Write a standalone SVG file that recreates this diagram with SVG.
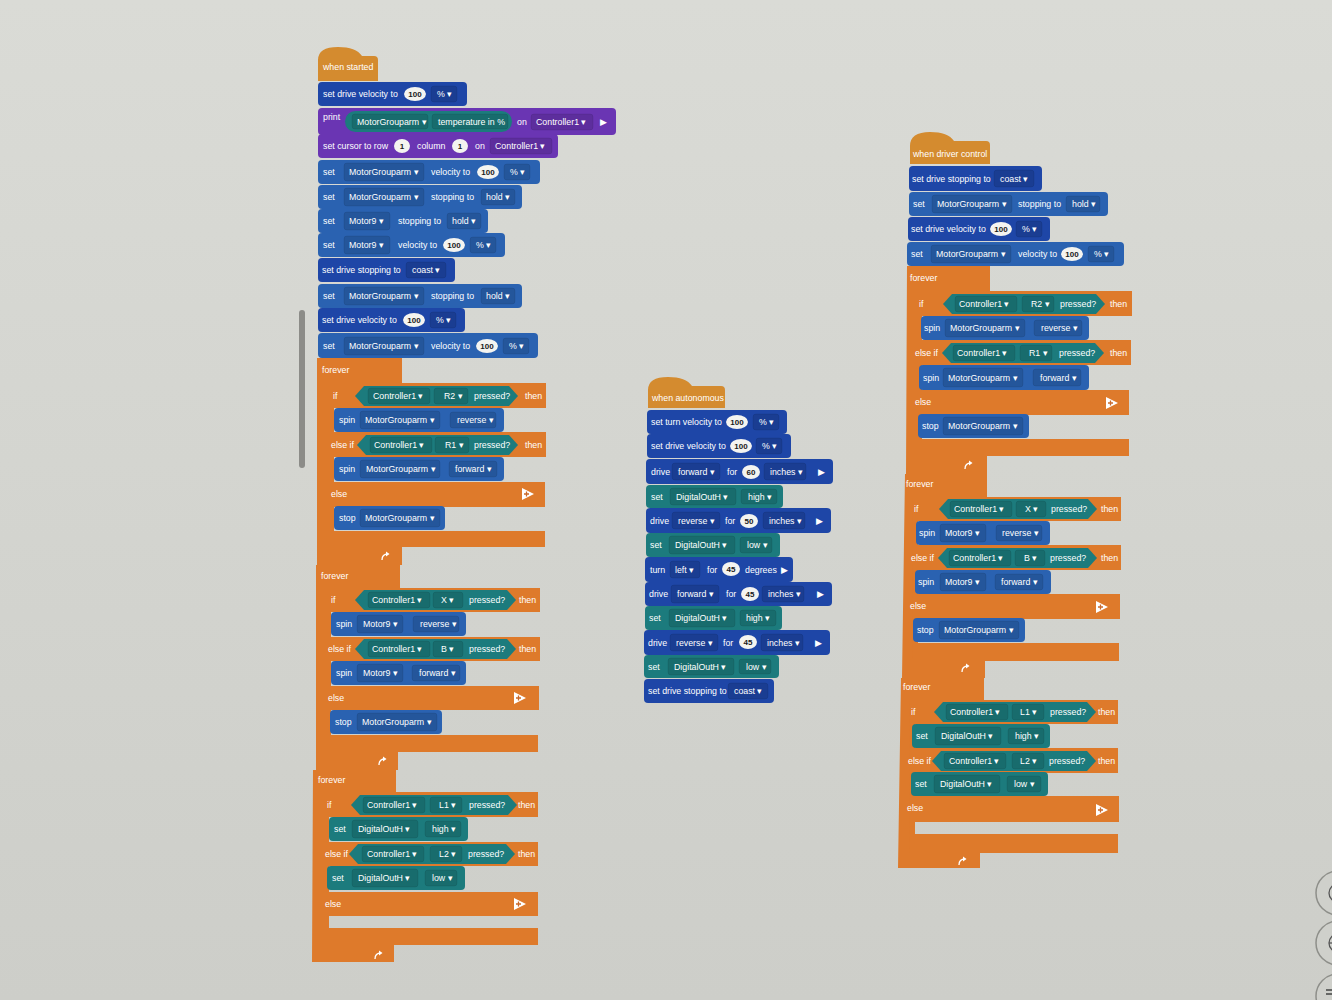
<svg xmlns="http://www.w3.org/2000/svg" width="1332" height="1000" viewBox="0 0 1332 1000">
<style>
.t{font-family:"Liberation Sans",Arial,sans-serif;font-size:8.8px;fill:#fff}
.n{font-family:"Liberation Sans",Arial,sans-serif;font-size:8px;fill:#1a1a1a;text-anchor:middle;font-weight:bold}
.ev{fill:#d48b2f}
.c{fill:#de7a2b}
.d{fill:#1e46a7}
.m{fill:#2a62b1}
.p{fill:#6a35b3}
.s{fill:#1c7b7d}
.f{fill:#000;fill-opacity:.12;stroke:#000;stroke-opacity:.14;stroke-width:.6}
.pl{fill:#f4f4f0}
.btn{fill:#cfd0cb;stroke:#8e8f8a;stroke-width:1.5}
</style>
<defs>
<linearGradient id="bg" x1="0" y1="0" x2="0" y2="1">
<stop offset="0" stop-color="#dadbd6"/><stop offset="1" stop-color="#cdcec9"/>
</linearGradient>
<g id="plus"><path d="M-6,-6 L6,0 L-6,6 Z" fill="#fff"/><path d="M-4,0 H1 M-1.5,-2.5 V2.5" stroke="#c9692a" stroke-width="1.3"/></g>
<g id="loop"><path d="M-3,4 Q-3,-2 3,-2" fill="none" stroke="#fff" stroke-width="1.3"/><path d="M1,-4.5 L4.5,-2 L1,0.5 Z" fill="#fff"/></g>
</defs>
<rect width="1332" height="1000" fill="url(#bg)"/>
<rect x="299" y="310" width="6" height="158" rx="3" fill="#8c8c88"/>
<g id="zoom-buttons">
<circle class="btn" cx="1338" cy="893" r="22"/><circle cx="1338" cy="893" r="9" fill="none" stroke="#555" stroke-width="1.3"/>
<circle class="btn" cx="1338" cy="943" r="22"/><circle cx="1338" cy="943" r="9" fill="none" stroke="#555" stroke-width="1.3"/><path d="M1329,943 H1334" stroke="#555" stroke-width="1.3"/>
<circle class="btn" cx="1338" cy="996" r="22"/><path d="M1326,990 H1332 M1326,994 H1332" stroke="#444" stroke-width="1.5"/>
</g>
<g id="connectors"/>

<g id="stack-when-started">
<g id="L-hat"><path class="ev" d="M318,81 V60 Q318,47 338,47 Q356,47 362,56 H374 Q378,56 378,60 V81 Z"/><text class="t" x="323" y="70">when started</text></g>
<g id="L1"><rect class="d" x="318" y="82" width="149" height="24" rx="4"/><text class="t" x="323" y="97">set drive velocity to</text><ellipse class="pl" cx="415" cy="94" rx="11" ry="7"/><text class="n" x="415" y="97">100</text><rect class="f" x="431" y="86" width="26" height="16" rx="3"/><text class="t" x="437" y="97">% ▾</text></g>
<g id="L2"><rect class="p" x="318" y="108" width="298" height="27" rx="4"/><text class="t" x="323" y="120">print</text><rect class="s" x="345" y="111" width="167" height="21" rx="10.5"/><rect class="f" x="352" y="114" width="76" height="15" rx="3"/><text class="t" x="357" y="125">MotorGrouparm ▾</text><rect class="f" x="432" y="114" width="76" height="15" rx="3"/><text class="t" x="438" y="125">temperature in %</text><text class="t" x="517" y="125">on</text><rect class="f" x="531" y="114" width="62" height="16" rx="3"/><text class="t" x="536" y="125">Controller1 ▾</text><text class="t" x="600" y="125">▶</text></g>
<g id="L3"><rect class="p" x="318" y="134" width="240" height="24" rx="4"/><text class="t" x="323" y="149">set cursor to row</text><ellipse class="pl" cx="402" cy="146" rx="8" ry="7"/><text class="n" x="402" y="149">1</text><text class="t" x="417" y="149">column</text><ellipse class="pl" cx="460" cy="146" rx="8" ry="7"/><text class="n" x="460" y="149">1</text><text class="t" x="475" y="149">on</text><rect class="f" x="490" y="138" width="62" height="16" rx="3"/><text class="t" x="495" y="149">Controller1 ▾</text></g>
<g id="L4"><rect class="m" x="318" y="160" width="222" height="24" rx="4"/><text class="t" x="323" y="175">set</text><rect class="f" x="344" y="163" width="80" height="18" rx="3"/><text class="t" x="349" y="175">MotorGrouparm ▾</text><text class="t" x="431" y="175">velocity to</text><ellipse class="pl" cx="488" cy="172" rx="11" ry="7"/><text class="n" x="488" y="175">100</text><rect class="f" x="504" y="164" width="26" height="16" rx="3"/><text class="t" x="510" y="175">% ▾</text></g>
<g id="L5"><rect class="m" x="318" y="185" width="204" height="24" rx="4"/><text class="t" x="323" y="200">set</text><rect class="f" x="344" y="188" width="80" height="18" rx="3"/><text class="t" x="349" y="200">MotorGrouparm ▾</text><text class="t" x="431" y="200">stopping to</text><rect class="f" x="481" y="189" width="34" height="16" rx="3"/><text class="t" x="486" y="200">hold ▾</text></g>
<g id="L6"><rect class="m" x="318" y="209" width="170" height="24" rx="4"/><text class="t" x="323" y="224">set</text><rect class="f" x="344" y="212" width="46" height="18" rx="3"/><text class="t" x="349" y="224">Motor9 ▾</text><text class="t" x="398" y="224">stopping to</text><rect class="f" x="447" y="213" width="34" height="16" rx="3"/><text class="t" x="452" y="224">hold ▾</text></g>
<g id="L7"><rect class="m" x="318" y="233" width="187" height="24" rx="4"/><text class="t" x="323" y="248">set</text><rect class="f" x="344" y="236" width="46" height="18" rx="3"/><text class="t" x="349" y="248">Motor9 ▾</text><text class="t" x="398" y="248">velocity to</text><ellipse class="pl" cx="454" cy="245" rx="11" ry="7"/><text class="n" x="454" y="248">100</text><rect class="f" x="470" y="237" width="26" height="16" rx="3"/><text class="t" x="476" y="248">% ▾</text></g>
<g id="L8"><rect class="d" x="318" y="258" width="137" height="24" rx="4"/><text class="t" x="322" y="273">set drive stopping to</text><rect class="f" x="406" y="262" width="40" height="16" rx="3"/><text class="t" x="412" y="273">coast ▾</text></g>
<g id="L9"><rect class="m" x="318" y="284" width="204" height="24" rx="4"/><text class="t" x="323" y="299">set</text><rect class="f" x="344" y="287" width="80" height="18" rx="3"/><text class="t" x="349" y="299">MotorGrouparm ▾</text><text class="t" x="431" y="299">stopping to</text><rect class="f" x="481" y="288" width="34" height="16" rx="3"/><text class="t" x="486" y="299">hold ▾</text></g>
<g id="L10"><rect class="d" x="318" y="308" width="147" height="24" rx="4"/><text class="t" x="322" y="323">set drive velocity to</text><ellipse class="pl" cx="414" cy="320" rx="11" ry="7"/><text class="n" x="414" y="323">100</text><rect class="f" x="430" y="312" width="26" height="16" rx="3"/><text class="t" x="436" y="323">% ▾</text></g>
<g id="L11"><rect class="m" x="318" y="333" width="220" height="25" rx="4"/><text class="t" x="323" y="349">set</text><rect class="f" x="344" y="337" width="80" height="18" rx="3"/><text class="t" x="349" y="349">MotorGrouparm ▾</text><text class="t" x="431" y="349">velocity to</text><ellipse class="pl" cx="487" cy="346" rx="11" ry="7"/><text class="n" x="487" y="349">100</text><rect class="f" x="503" y="338" width="26" height="16" rx="3"/><text class="t" x="509" y="349">% ▾</text></g>

<g id="L-forever1">
<path class="c" d="M317,358 H402 V383 H330 V547 H402 V565 H317 Z"/><text class="t" x="322" y="373">forever</text><use href="#loop" x="385" y="556"/>
<path class="c" d="M328,383 H546 V408 H334 V432 H546 V457 H334 V482 H545 V507 H334 V531 H545 V547 H328 Z"/>
<text class="t" x="333" y="399">if</text><polygon class="s" points="355,396 364,386 509,386 518,396 509,406 364,406"/><rect class="f" x="368" y="388" width="62" height="16" rx="3"/><text class="t" x="373" y="399">Controller1 ▾</text><rect class="f" x="434" y="388" width="34" height="16" rx="3"/><text class="t" x="444" y="399">R2 ▾</text><text class="t" x="474" y="399">pressed?</text><text class="t" x="525" y="399">then</text>
<g id="L-spin1"><rect class="m" x="334" y="408" width="170" height="24" rx="4"/><text class="t" x="339" y="423">spin</text><rect class="f" x="360" y="411" width="80" height="18" rx="3"/><text class="t" x="365" y="423">MotorGrouparm ▾</text><rect class="f" x="450" y="412" width="46" height="16" rx="3"/><text class="t" x="457" y="423">reverse ▾</text></g>
<text class="t" x="331" y="448">else if</text><polygon class="s" points="357,445 366,435 509,435 518,445 509,455 366,455"/><rect class="f" x="370" y="437" width="62" height="16" rx="3"/><text class="t" x="374" y="448">Controller1 ▾</text><rect class="f" x="435" y="437" width="34" height="16" rx="3"/><text class="t" x="445" y="448">R1 ▾</text><text class="t" x="474" y="448">pressed?</text><text class="t" x="525" y="448">then</text>
<g id="L-spin2"><rect class="m" x="334" y="457" width="170" height="24" rx="4"/><text class="t" x="339" y="472">spin</text><rect class="f" x="360" y="460" width="80" height="18" rx="3"/><text class="t" x="366" y="472">MotorGrouparm ▾</text><rect class="f" x="449" y="461" width="48" height="16" rx="3"/><text class="t" x="455" y="472">forward ▾</text></g>
<text class="t" x="331" y="497">else</text><use href="#plus" x="528" y="494"/>
<g id="L-stop1"><rect class="m" x="334" y="506" width="111" height="24" rx="4"/><text class="t" x="339" y="521">stop</text><rect class="f" x="360" y="509" width="80" height="18" rx="3"/><text class="t" x="365" y="521">MotorGrouparm ▾</text></g>
</g>

<g id="L-forever2">
<path class="c" d="M316,565 H400 V588 H328 V752 H398 V770 H316 Z"/><text class="t" x="321" y="579">forever</text><use href="#loop" x="382" y="761"/>
<path class="c" d="M326,588 H540 V612 H331 V637 H540 V661 H331 V686 H539 V710 H331 V735 H538 V752 H326 Z"/>
<text class="t" x="331" y="603">if</text><polygon class="s" points="355,600 364,590 507,590 516,600 507,610 364,610"/><rect class="f" x="368" y="592" width="62" height="16" rx="3"/><text class="t" x="372" y="603">Controller1 ▾</text><rect class="f" x="433" y="592" width="30" height="16" rx="3"/><text class="t" x="441" y="603">X ▾</text><text class="t" x="469" y="603">pressed?</text><text class="t" x="519" y="603">then</text>
<g id="L-spin3"><rect class="m" x="331" y="612" width="135" height="24" rx="4"/><text class="t" x="336" y="627">spin</text><rect class="f" x="357" y="615" width="46" height="18" rx="3"/><text class="t" x="363" y="627">Motor9 ▾</text><rect class="f" x="413" y="616" width="46" height="16" rx="3"/><text class="t" x="420" y="627">reverse ▾</text></g>
<text class="t" x="328" y="652">else if</text><polygon class="s" points="355,649 364,639 507,639 516,649 507,659 364,659"/><rect class="f" x="368" y="641" width="62" height="16" rx="3"/><text class="t" x="372" y="652">Controller1 ▾</text><rect class="f" x="433" y="641" width="30" height="16" rx="3"/><text class="t" x="441" y="652">B ▾</text><text class="t" x="469" y="652">pressed?</text><text class="t" x="519" y="652">then</text>
<g id="L-spin4"><rect class="m" x="331" y="661" width="135" height="24" rx="4"/><text class="t" x="336" y="676">spin</text><rect class="f" x="357" y="664" width="46" height="18" rx="3"/><text class="t" x="363" y="676">Motor9 ▾</text><rect class="f" x="412" y="665" width="48" height="16" rx="3"/><text class="t" x="419" y="676">forward ▾</text></g>
<text class="t" x="328" y="701">else</text><use href="#plus" x="520" y="698"/>
<g id="L-stop2"><rect class="m" x="330" y="710" width="112" height="24" rx="4"/><text class="t" x="335" y="725">stop</text><rect class="f" x="357" y="713" width="80" height="18" rx="3"/><text class="t" x="362" y="725">MotorGrouparm ▾</text></g>
</g>

<g id="L-forever3">
<path class="c" d="M313,770 H396 V792 H325 V945 H394 V962 H312 Z"/><text class="t" x="318" y="783">forever</text><use href="#loop" x="378" y="955"/>
<path class="c" d="M322,792 H538 V817 H329 V842 H538 V866 H329 V892 H538 V916 H329 V928 H538 V945 H322 Z"/>
<text class="t" x="327" y="808">if</text><polygon class="s" points="351,805 360,795 508,795 517,805 508,815 360,815"/><rect class="f" x="363" y="797" width="62" height="16" rx="3"/><text class="t" x="367" y="808">Controller1 ▾</text><rect class="f" x="430" y="797" width="32" height="16" rx="3"/><text class="t" x="439" y="808">L1 ▾</text><text class="t" x="469" y="808">pressed?</text><text class="t" x="518" y="808">then</text>
<g id="L-set1"><rect class="s" x="329" y="817" width="139" height="24" rx="4"/><text class="t" x="334" y="832">set</text><rect class="f" x="352" y="820" width="66" height="18" rx="3"/><text class="t" x="358" y="832">DigitalOutH ▾</text><rect class="f" x="425" y="821" width="36" height="16" rx="3"/><text class="t" x="432" y="832">high ▾</text></g>
<text class="t" x="325" y="857">else if</text><polygon class="s" points="349,854 358,844 506,844 515,854 506,864 358,864"/><rect class="f" x="362" y="846" width="62" height="16" rx="3"/><text class="t" x="367" y="857">Controller1 ▾</text><rect class="f" x="430" y="846" width="32" height="16" rx="3"/><text class="t" x="439" y="857">L2 ▾</text><text class="t" x="468" y="857">pressed?</text><text class="t" x="518" y="857">then</text>
<g id="L-set2"><rect class="s" x="327" y="866" width="138" height="24" rx="4"/><text class="t" x="332" y="881">set</text><rect class="f" x="352" y="869" width="66" height="18" rx="3"/><text class="t" x="358" y="881">DigitalOutH ▾</text><rect class="f" x="425" y="870" width="32" height="16" rx="3"/><text class="t" x="432" y="881">low ▾</text></g>
<text class="t" x="325" y="907">else</text><use href="#plus" x="520" y="904"/>
</g>
</g>

<g id="stack-when-autonomous">
<g id="M-hat"><path class="ev" d="M648,408 V390 Q648,377 668,377 Q686,377 692,386 H721 Q725,386 725,390 V408 Z"/><text class="t" x="652" y="401">when autonomous</text></g>
<g id="M1"><rect class="d" x="647" y="410" width="140" height="24" rx="4"/><text class="t" x="651" y="425">set turn velocity to</text><ellipse class="pl" cx="737" cy="422" rx="11" ry="7"/><text class="n" x="737" y="425">100</text><rect class="f" x="753" y="414" width="26" height="16" rx="3"/><text class="t" x="759" y="425">% ▾</text></g>
<g id="M2"><rect class="d" x="647" y="434" width="144" height="24" rx="4"/><text class="t" x="651" y="449">set drive velocity to</text><ellipse class="pl" cx="741" cy="446" rx="11" ry="7"/><text class="n" x="741" y="449">100</text><rect class="f" x="756" y="438" width="26" height="16" rx="3"/><text class="t" x="762" y="449">% ▾</text></g>
<g id="M3"><rect class="d" x="646" y="459" width="187" height="25" rx="4"/><text class="t" x="651" y="475">drive</text><rect class="f" x="672" y="463" width="48" height="17" rx="3"/><text class="t" x="678" y="475">forward ▾</text><text class="t" x="727" y="475">for</text><ellipse class="pl" cx="751" cy="472" rx="9" ry="7"/><text class="n" x="751" y="475">60</text><rect class="f" x="764" y="463" width="42" height="17" rx="3"/><text class="t" x="770" y="475">inches ▾</text><text class="t" x="818" y="475">▶</text></g>
<g id="M4"><rect class="s" x="646" y="485" width="137" height="23" rx="4"/><text class="t" x="651" y="500">set</text><rect class="f" x="670" y="488" width="66" height="17" rx="3"/><text class="t" x="676" y="500">DigitalOutH ▾</text><rect class="f" x="741" y="489" width="36" height="15" rx="3"/><text class="t" x="748" y="500">high ▾</text></g>
<g id="M5"><rect class="d" x="646" y="508" width="185" height="25" rx="4"/><text class="t" x="650" y="524">drive</text><rect class="f" x="672" y="512" width="48" height="17" rx="3"/><text class="t" x="678" y="524">reverse ▾</text><text class="t" x="725" y="524">for</text><ellipse class="pl" cx="749" cy="521" rx="9" ry="7"/><text class="n" x="749" y="524">50</text><rect class="f" x="763" y="512" width="42" height="17" rx="3"/><text class="t" x="769" y="524">inches ▾</text><text class="t" x="816" y="524">▶</text></g>
<g id="M6"><rect class="s" x="646" y="533" width="134" height="24" rx="4"/><text class="t" x="650" y="548">set</text><rect class="f" x="669" y="536" width="66" height="18" rx="3"/><text class="t" x="675" y="548">DigitalOutH ▾</text><rect class="f" x="740" y="537" width="32" height="16" rx="3"/><text class="t" x="747" y="548">low ▾</text></g>
<g id="M7"><rect class="d" x="645" y="557" width="148" height="25" rx="4"/><text class="t" x="650" y="573">turn</text><rect class="f" x="670" y="561" width="30" height="17" rx="3"/><text class="t" x="675" y="573">left ▾</text><text class="t" x="707" y="573">for</text><ellipse class="pl" cx="731" cy="569" rx="9" ry="7"/><text class="n" x="731" y="572">45</text><text class="t" x="745" y="573">degrees</text><text class="t" x="781" y="573">▶</text></g>
<g id="M8"><rect class="d" x="645" y="582" width="187" height="24" rx="4"/><text class="t" x="649" y="597">drive</text><rect class="f" x="671" y="585" width="48" height="18" rx="3"/><text class="t" x="677" y="597">forward ▾</text><text class="t" x="726" y="597">for</text><ellipse class="pl" cx="750" cy="594" rx="9" ry="7"/><text class="n" x="750" y="597">45</text><rect class="f" x="762" y="586" width="42" height="16" rx="3"/><text class="t" x="768" y="597">inches ▾</text><text class="t" x="817" y="597">▶</text></g>
<g id="M9"><rect class="s" x="645" y="606" width="137" height="24" rx="4"/><text class="t" x="649" y="621">set</text><rect class="f" x="669" y="609" width="66" height="18" rx="3"/><text class="t" x="675" y="621">DigitalOutH ▾</text><rect class="f" x="740" y="610" width="36" height="16" rx="3"/><text class="t" x="746" y="621">high ▾</text></g>
<g id="M10"><rect class="d" x="644" y="630" width="186" height="25" rx="4"/><text class="t" x="648" y="646">drive</text><rect class="f" x="670" y="634" width="48" height="17" rx="3"/><text class="t" x="676" y="646">reverse ▾</text><text class="t" x="723" y="646">for</text><ellipse class="pl" cx="748" cy="642" rx="9" ry="7"/><text class="n" x="748" y="645">45</text><rect class="f" x="761" y="634" width="42" height="17" rx="3"/><text class="t" x="767" y="646">inches ▾</text><text class="t" x="815" y="646">▶</text></g>
<g id="M11"><rect class="s" x="644" y="655" width="135" height="23" rx="4"/><text class="t" x="648" y="670">set</text><rect class="f" x="668" y="658" width="66" height="17" rx="3"/><text class="t" x="674" y="670">DigitalOutH ▾</text><rect class="f" x="739" y="659" width="32" height="15" rx="3"/><text class="t" x="746" y="670">low ▾</text></g>
<g id="M12"><rect class="d" x="644" y="679" width="130" height="24" rx="4"/><text class="t" x="648" y="694">set drive stopping to</text><rect class="f" x="728" y="683" width="40" height="16" rx="3"/><text class="t" x="734" y="694">coast ▾</text></g>
</g>

<g id="stack-when-driver-control">
<g id="R-hat"><path class="ev" d="M910,164 V146 Q910,132 930,132 Q948,132 954,141 H986 Q990,141 990,145 V164 Z"/><text class="t" x="913" y="157">when driver control</text></g>
<g id="R1"><rect class="d" x="909" y="166" width="133" height="25" rx="4"/><text class="t" x="912" y="182">set drive stopping to</text><rect class="f" x="994" y="170" width="40" height="17" rx="3"/><text class="t" x="1000" y="182">coast ▾</text></g>
<g id="R2"><rect class="m" x="909" y="192" width="199" height="24" rx="4"/><text class="t" x="913" y="207">set</text><rect class="f" x="932" y="195" width="80" height="18" rx="3"/><text class="t" x="937" y="207">MotorGrouparm ▾</text><text class="t" x="1018" y="207">stopping to</text><rect class="f" x="1066" y="196" width="34" height="16" rx="3"/><text class="t" x="1072" y="207">hold ▾</text></g>
<g id="R3"><rect class="d" x="908" y="217" width="142" height="24" rx="4"/><text class="t" x="911" y="232">set drive velocity to</text><ellipse class="pl" cx="1001" cy="229" rx="11" ry="7"/><text class="n" x="1001" y="232">100</text><rect class="f" x="1016" y="221" width="26" height="16" rx="3"/><text class="t" x="1022" y="232">% ▾</text></g>
<g id="R4"><rect class="m" x="907" y="242" width="217" height="24" rx="4"/><text class="t" x="911" y="257">set</text><rect class="f" x="931" y="245" width="80" height="18" rx="3"/><text class="t" x="936" y="257">MotorGrouparm ▾</text><text class="t" x="1018" y="257">velocity to</text><ellipse class="pl" cx="1072" cy="254" rx="11" ry="7"/><text class="n" x="1072" y="257">100</text><rect class="f" x="1088" y="246" width="26" height="16" rx="3"/><text class="t" x="1094" y="257">% ▾</text></g>

<g id="R-forever1">
<path class="c" d="M907,266 H990 V291 H919 V456 H987 V474 H906 Z"/><text class="t" x="910" y="281">forever</text><use href="#loop" x="968" y="465"/>
<path class="c" d="M917,291 H1132 V316 H922 V340 H1131 V365 H922 V390 H1129 V415 H922 V439 H1129 V456 H917 Z"/>
<text class="t" x="919" y="307">if</text><polygon class="s" points="943,304 952,294 1096,294 1105,304 1096,314 952,314"/><rect class="f" x="955" y="296" width="62" height="16" rx="3"/><text class="t" x="959" y="307">Controller1 ▾</text><rect class="f" x="1022" y="296" width="32" height="16" rx="3"/><text class="t" x="1031" y="307">R2 ▾</text><text class="t" x="1060" y="307">pressed?</text><text class="t" x="1110" y="307">then</text>
<g id="R-spin1"><rect class="m" x="921" y="316" width="168" height="24" rx="4"/><text class="t" x="924" y="331">spin</text><rect class="f" x="945" y="319" width="80" height="18" rx="3"/><text class="t" x="950" y="331">MotorGrouparm ▾</text><rect class="f" x="1034" y="320" width="48" height="16" rx="3"/><text class="t" x="1041" y="331">reverse ▾</text></g>
<text class="t" x="915" y="356">else if</text><polygon class="s" points="942,353 951,343 1095,343 1104,353 1095,363 951,363"/><rect class="f" x="953" y="345" width="62" height="16" rx="3"/><text class="t" x="957" y="356">Controller1 ▾</text><rect class="f" x="1020" y="345" width="32" height="16" rx="3"/><text class="t" x="1029" y="356">R1 ▾</text><text class="t" x="1059" y="356">pressed?</text><text class="t" x="1110" y="356">then</text>
<g id="R-spin2"><rect class="m" x="919" y="365" width="170" height="25" rx="4"/><text class="t" x="923" y="381">spin</text><rect class="f" x="943" y="368" width="80" height="19" rx="3"/><text class="t" x="948" y="381">MotorGrouparm ▾</text><rect class="f" x="1033" y="369" width="48" height="17" rx="3"/><text class="t" x="1040" y="381">forward ▾</text></g>
<text class="t" x="915" y="405">else</text><use href="#plus" x="1112" y="403"/>
<g id="R-stop1"><rect class="m" x="918" y="414" width="111" height="24" rx="4"/><text class="t" x="922" y="429">stop</text><rect class="f" x="943" y="417" width="80" height="18" rx="3"/><text class="t" x="948" y="429">MotorGrouparm ▾</text></g>
</g>

<g id="R-forever2">
<path class="c" d="M905,474 H987 V497 H916 V661 H985 V678 H902 Z"/><text class="t" x="906" y="487">forever</text><use href="#loop" x="965" y="668"/>
<path class="c" d="M913,497 H1121 V521 H918 V545 H1121 V570 H918 V594 H1120 V619 H918 V643 H1119 V661 H912 Z"/>
<text class="t" x="914" y="512">if</text><polygon class="s" points="939,509 948,499 1088,499 1097,509 1088,519 948,519"/><rect class="f" x="950" y="501" width="62" height="16" rx="3"/><text class="t" x="954" y="512">Controller1 ▾</text><rect class="f" x="1016" y="501" width="30" height="16" rx="3"/><text class="t" x="1025" y="512">X ▾</text><text class="t" x="1051" y="512">pressed?</text><text class="t" x="1101" y="512">then</text>
<g id="R-spin3"><rect class="m" x="916" y="521" width="134" height="24" rx="4"/><text class="t" x="919" y="536">spin</text><rect class="f" x="940" y="524" width="46" height="18" rx="3"/><text class="t" x="945" y="536">Motor9 ▾</text><rect class="f" x="996" y="525" width="46" height="16" rx="3"/><text class="t" x="1002" y="536">reverse ▾</text></g>
<text class="t" x="911" y="561">else if</text><polygon class="s" points="938,558 947,548 1088,548 1097,558 1088,568 947,568"/><rect class="f" x="949" y="550" width="62" height="16" rx="3"/><text class="t" x="953" y="561">Controller1 ▾</text><rect class="f" x="1015" y="550" width="30" height="16" rx="3"/><text class="t" x="1024" y="561">B ▾</text><text class="t" x="1050" y="561">pressed?</text><text class="t" x="1101" y="561">then</text>
<g id="R-spin4"><rect class="m" x="915" y="570" width="136" height="24" rx="4"/><text class="t" x="918" y="585">spin</text><rect class="f" x="940" y="573" width="46" height="18" rx="3"/><text class="t" x="945" y="585">Motor9 ▾</text><rect class="f" x="995" y="574" width="48" height="16" rx="3"/><text class="t" x="1001" y="585">forward ▾</text></g>
<text class="t" x="910" y="609">else</text><use href="#plus" x="1102" y="607"/>
<g id="R-stop2"><rect class="m" x="913" y="618" width="112" height="24" rx="4"/><text class="t" x="917" y="633">stop</text><rect class="f" x="939" y="621" width="80" height="18" rx="3"/><text class="t" x="944" y="633">MotorGrouparm ▾</text></g>
</g>

<g id="R-forever3">
<path class="c" d="M901,678 H984 V700 H912 V853 H980 V868 H898 Z"/><text class="t" x="903" y="690">forever</text><use href="#loop" x="962" y="861"/>
<path class="c" d="M910,700 H1118 V724 H915 V748 H1118 V773 H915 V796 H1119 V822 H915 V834 H1118 V853 H909 Z"/>
<text class="t" x="911" y="715">if</text><polygon class="s" points="934,712 943,702 1087,702 1096,712 1087,722 943,722"/><rect class="f" x="946" y="704" width="62" height="16" rx="3"/><text class="t" x="950" y="715">Controller1 ▾</text><rect class="f" x="1012" y="704" width="32" height="16" rx="3"/><text class="t" x="1020" y="715">L1 ▾</text><text class="t" x="1050" y="715">pressed?</text><text class="t" x="1098" y="715">then</text>
<g id="R-set1"><rect class="s" x="912" y="724" width="138" height="24" rx="4"/><text class="t" x="916" y="739">set</text><rect class="f" x="935" y="727" width="66" height="18" rx="3"/><text class="t" x="941" y="739">DigitalOutH ▾</text><rect class="f" x="1008" y="728" width="36" height="16" rx="3"/><text class="t" x="1015" y="739">high ▾</text></g>
<text class="t" x="908" y="764">else if</text><polygon class="s" points="932,761 941,751 1087,751 1096,761 1087,771 941,771"/><rect class="f" x="944" y="753" width="62" height="16" rx="3"/><text class="t" x="949" y="764">Controller1 ▾</text><rect class="f" x="1012" y="753" width="32" height="16" rx="3"/><text class="t" x="1020" y="764">L2 ▾</text><text class="t" x="1049" y="764">pressed?</text><text class="t" x="1098" y="764">then</text>
<g id="R-set2"><rect class="s" x="911" y="772" width="137" height="24" rx="4"/><text class="t" x="915" y="787">set</text><rect class="f" x="934" y="775" width="66" height="18" rx="3"/><text class="t" x="940" y="787">DigitalOutH ▾</text><rect class="f" x="1007" y="776" width="34" height="16" rx="3"/><text class="t" x="1014" y="787">low ▾</text></g>
<text class="t" x="907" y="811">else</text><use href="#plus" x="1102" y="810"/>
</g>
</g>
</svg>
